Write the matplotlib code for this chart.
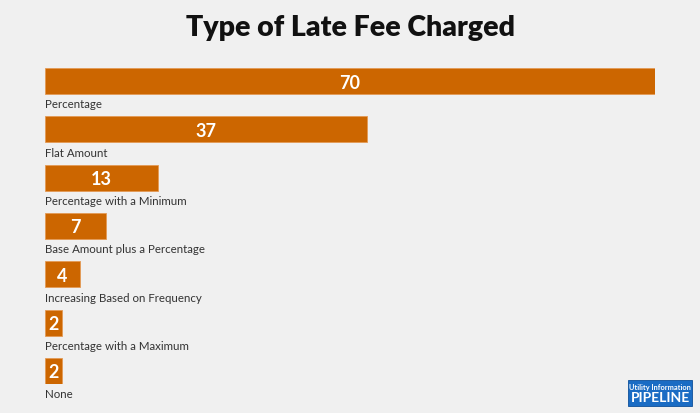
import matplotlib
matplotlib.use("Agg")
import matplotlib.pyplot as plt
from matplotlib.patches import Rectangle

categories = ["Percentage", "Flat Amount", "Percentage with a Minimum",
              "Base Amount plus a Percentage", "Increasing Based on Frequency",
              "Percentage with a Maximum", "None"]
values = [70, 37, 13, 7, 4, 2, 2]

BG = "#f0f0f0"
BAR = "#cc6600"

fig = plt.figure(figsize=(7.0, 4.14), dpi=100, facecolor=BG)
H = 414.0
top_px, bot_px = 69.0, 385.0
ax = fig.add_axes([45/700, 1 - bot_px/H, 610/700, (bot_px - top_px)/H])
ax.set_facecolor(BG)
bh = 0.54
ypos = list(range(len(values)))
ax.barh(ypos, values, height=bh, color=BAR, edgecolor="#e49a55", linewidth=0.6)
ax.set_xlim(0, 70)
ax.set_ylim(len(values) - 1 + bh/2, -bh/2)
ax.axis("off")

for y, v, c in zip(ypos, values, categories):
    ax.text(v/2, y + 0.02, str(v), ha="center", va="center", color="white",
            fontsize=13, fontweight="bold", family="Lato")
    ax.text(0, y + bh/2 + 0.09, c, ha="left", va="top", color="#333333",
            fontsize=8.3, family="Lato", clip_on=False)

fig.text(0.5, 1 - 28/H, "Type of Late Fee Charged", ha="center", va="center",
         fontsize=20.5, fontweight="heavy", family="Lato", color="#111111")

# logo
lx, ly, lw, lh = 628, 381, 64, 26
fig.patches.append(Rectangle((lx/700, 1 - (ly + lh)/H), lw/700, lh/H,
                             transform=fig.transFigure, facecolor="#1a6cc4",
                             edgecolor="#0d4f99", linewidth=0.6))
fig.text((lx + lw/2)/700, 1 - (ly + 6.5)/H, "Utility Information", ha="center",
         va="center", fontsize=5.3, color="white", family="Lato", fontweight="bold")
fig.text((lx + lw/2)/700, 1 - (ly + 17.5)/H, "PIPELINE", ha="center",
         va="center", fontsize=10, color="white", family="Lato", fontweight="bold")

fig.savefig("out.png", dpi=100, facecolor=BG)
